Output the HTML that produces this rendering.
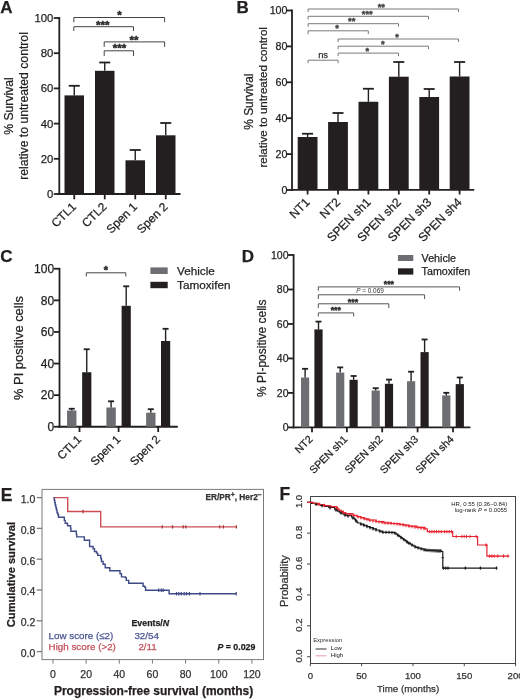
<!DOCTYPE html>
<html><head><meta charset="utf-8"><title>Figure</title>
<style>
html,body{margin:0;padding:0;background:#fff;}
body{width:520px;height:700px;overflow:hidden;}
svg{display:block;font-family:"Liberation Sans", Arial, Helvetica, sans-serif;}
</style></head>
<body>
<svg width="520" height="700" viewBox="0 0 520 700">
<rect x="0" y="0" width="520" height="700" fill="#fff"/>
<text x="0.20" y="12.70" font-size="17" text-anchor="start" fill="#231f20" font-weight="bold" stroke="#231f20" stroke-width="0.25">A</text>
<line x1="59.30" y1="17.10" x2="59.30" y2="194.90" stroke="#231f20" stroke-width="1.8" stroke-linecap="butt"/>
<line x1="53.80" y1="194.00" x2="59.30" y2="194.00" stroke="#231f20" stroke-width="1.8" stroke-linecap="butt"/>
<text x="53.30" y="198.07" font-size="11.3" text-anchor="end" fill="#231f20" font-weight="normal" stroke="#231f20" stroke-width="0.25">0</text>
<line x1="53.80" y1="158.80" x2="59.30" y2="158.80" stroke="#231f20" stroke-width="1.8" stroke-linecap="butt"/>
<text x="53.30" y="162.87" font-size="11.3" text-anchor="end" fill="#231f20" font-weight="normal" stroke="#231f20" stroke-width="0.25">20</text>
<line x1="53.80" y1="123.60" x2="59.30" y2="123.60" stroke="#231f20" stroke-width="1.8" stroke-linecap="butt"/>
<text x="53.30" y="127.67" font-size="11.3" text-anchor="end" fill="#231f20" font-weight="normal" stroke="#231f20" stroke-width="0.25">40</text>
<line x1="53.80" y1="88.40" x2="59.30" y2="88.40" stroke="#231f20" stroke-width="1.8" stroke-linecap="butt"/>
<text x="53.30" y="92.47" font-size="11.3" text-anchor="end" fill="#231f20" font-weight="normal" stroke="#231f20" stroke-width="0.25">60</text>
<line x1="53.80" y1="53.20" x2="59.30" y2="53.20" stroke="#231f20" stroke-width="1.8" stroke-linecap="butt"/>
<text x="53.30" y="57.27" font-size="11.3" text-anchor="end" fill="#231f20" font-weight="normal" stroke="#231f20" stroke-width="0.25">80</text>
<line x1="53.80" y1="18.00" x2="59.30" y2="18.00" stroke="#231f20" stroke-width="1.8" stroke-linecap="butt"/>
<text x="53.30" y="22.07" font-size="11.3" text-anchor="end" fill="#231f20" font-weight="normal" stroke="#231f20" stroke-width="0.25">100</text>
<line x1="58.40" y1="194.00" x2="180.50" y2="194.00" stroke="#231f20" stroke-width="1.8" stroke-linecap="butt"/>
<rect x="64.50" y="95.40" width="19.50" height="98.60" fill="#231f20"/>
<line x1="74.25" y1="95.40" x2="74.25" y2="85.80" stroke="#231f20" stroke-width="1.4" stroke-linecap="butt"/>
<line x1="68.75" y1="85.80" x2="79.75" y2="85.80" stroke="#231f20" stroke-width="1.7999999999999998" stroke-linecap="butt"/>
<line x1="74.25" y1="194.00" x2="74.25" y2="199.30" stroke="#231f20" stroke-width="1.8" stroke-linecap="butt"/>
<rect x="95.00" y="70.80" width="19.50" height="123.20" fill="#231f20"/>
<line x1="104.75" y1="70.80" x2="104.75" y2="62.50" stroke="#231f20" stroke-width="1.4" stroke-linecap="butt"/>
<line x1="99.25" y1="62.50" x2="110.25" y2="62.50" stroke="#231f20" stroke-width="1.7999999999999998" stroke-linecap="butt"/>
<line x1="104.75" y1="194.00" x2="104.75" y2="199.30" stroke="#231f20" stroke-width="1.8" stroke-linecap="butt"/>
<rect x="125.50" y="160.30" width="19.50" height="33.70" fill="#231f20"/>
<line x1="135.25" y1="160.30" x2="135.25" y2="150.00" stroke="#231f20" stroke-width="1.4" stroke-linecap="butt"/>
<line x1="129.75" y1="150.00" x2="140.75" y2="150.00" stroke="#231f20" stroke-width="1.7999999999999998" stroke-linecap="butt"/>
<line x1="135.25" y1="194.00" x2="135.25" y2="199.30" stroke="#231f20" stroke-width="1.8" stroke-linecap="butt"/>
<rect x="156.00" y="135.30" width="19.50" height="58.70" fill="#231f20"/>
<line x1="165.75" y1="135.30" x2="165.75" y2="123.00" stroke="#231f20" stroke-width="1.4" stroke-linecap="butt"/>
<line x1="160.25" y1="123.00" x2="171.25" y2="123.00" stroke="#231f20" stroke-width="1.7999999999999998" stroke-linecap="butt"/>
<line x1="165.75" y1="194.00" x2="165.75" y2="199.30" stroke="#231f20" stroke-width="1.8" stroke-linecap="butt"/>
<text x="76.85" y="207.50" font-size="11.9" text-anchor="end" fill="#231f20" font-weight="normal" stroke="#231f20" stroke-width="0.25" transform="rotate(-45 76.85 207.50)">CTL1</text>
<text x="107.35" y="207.50" font-size="11.9" text-anchor="end" fill="#231f20" font-weight="normal" stroke="#231f20" stroke-width="0.25" transform="rotate(-45 107.35 207.50)">CTL2</text>
<text x="137.85" y="207.50" font-size="11.9" text-anchor="end" fill="#231f20" font-weight="normal" stroke="#231f20" stroke-width="0.25" transform="rotate(-45 137.85 207.50)">Spen 1</text>
<text x="168.35" y="207.50" font-size="11.9" text-anchor="end" fill="#231f20" font-weight="normal" stroke="#231f20" stroke-width="0.25" transform="rotate(-45 168.35 207.50)">Spen 2</text>
<text x="13.40" y="106.00" font-size="12.2" text-anchor="middle" fill="#231f20" font-weight="normal" stroke="#231f20" stroke-width="0.25" transform="rotate(-90 13.40 106.00)">% Survival</text>
<text x="27.50" y="106.00" font-size="12.2" text-anchor="middle" fill="#231f20" font-weight="normal" stroke="#231f20" stroke-width="0.25" transform="rotate(-90 27.50 106.00)">relative to untreated control</text>
<polyline points="73.80,22.30 73.80,17.50 164.60,17.50 164.60,22.30" fill="none" stroke="#444" stroke-width="1"/>
<polyline points="73.80,31.00 73.80,26.70 133.50,26.70 133.50,31.00" fill="none" stroke="#444" stroke-width="1"/>
<polyline points="104.20,46.90 104.20,41.90 164.60,41.90 164.60,46.90" fill="none" stroke="#444" stroke-width="1"/>
<polyline points="104.20,56.00 104.20,50.80 133.50,50.80 133.50,56.00" fill="none" stroke="#444" stroke-width="1"/>
<text x="119.60" y="19.20" font-size="11.5" text-anchor="middle" fill="#2a2a2a" font-weight="bold" stroke="#2a2a2a" stroke-width="0.45" stroke-linejoin="round">*</text>
<text x="102.70" y="28.80" font-size="11.5" text-anchor="middle" fill="#2a2a2a" font-weight="bold" stroke="#2a2a2a" stroke-width="0.45" stroke-linejoin="round">***</text>
<text x="134.00" y="44.20" font-size="11.5" text-anchor="middle" fill="#2a2a2a" font-weight="bold" stroke="#2a2a2a" stroke-width="0.45" stroke-linejoin="round">**</text>
<text x="119.50" y="52.39" font-size="11.5" text-anchor="middle" fill="#2a2a2a" font-weight="bold" stroke="#2a2a2a" stroke-width="0.45" stroke-linejoin="round">***</text>
<text x="236.60" y="13.00" font-size="17" text-anchor="start" fill="#231f20" font-weight="bold" stroke="#231f20" stroke-width="0.25">B</text>
<line x1="292.00" y1="9.60" x2="292.00" y2="190.90" stroke="#231f20" stroke-width="1.8" stroke-linecap="butt"/>
<line x1="286.50" y1="190.00" x2="292.00" y2="190.00" stroke="#231f20" stroke-width="1.8" stroke-linecap="butt"/>
<text x="287.50" y="193.85" font-size="10.7" text-anchor="end" fill="#231f20" font-weight="normal" stroke="#231f20" stroke-width="0.25">0</text>
<line x1="286.50" y1="154.10" x2="292.00" y2="154.10" stroke="#231f20" stroke-width="1.8" stroke-linecap="butt"/>
<text x="287.50" y="157.95" font-size="10.7" text-anchor="end" fill="#231f20" font-weight="normal" stroke="#231f20" stroke-width="0.25">20</text>
<line x1="286.50" y1="118.20" x2="292.00" y2="118.20" stroke="#231f20" stroke-width="1.8" stroke-linecap="butt"/>
<text x="287.50" y="122.05" font-size="10.7" text-anchor="end" fill="#231f20" font-weight="normal" stroke="#231f20" stroke-width="0.25">40</text>
<line x1="286.50" y1="82.30" x2="292.00" y2="82.30" stroke="#231f20" stroke-width="1.8" stroke-linecap="butt"/>
<text x="287.50" y="86.15" font-size="10.7" text-anchor="end" fill="#231f20" font-weight="normal" stroke="#231f20" stroke-width="0.25">60</text>
<line x1="286.50" y1="46.40" x2="292.00" y2="46.40" stroke="#231f20" stroke-width="1.8" stroke-linecap="butt"/>
<text x="287.50" y="50.25" font-size="10.7" text-anchor="end" fill="#231f20" font-weight="normal" stroke="#231f20" stroke-width="0.25">80</text>
<line x1="286.50" y1="10.50" x2="292.00" y2="10.50" stroke="#231f20" stroke-width="1.8" stroke-linecap="butt"/>
<text x="287.50" y="14.35" font-size="10.7" text-anchor="end" fill="#231f20" font-weight="normal" stroke="#231f20" stroke-width="0.25">100</text>
<line x1="291.10" y1="189.80" x2="474.20" y2="189.80" stroke="#231f20" stroke-width="1.8" stroke-linecap="butt"/>
<rect x="297.70" y="137.00" width="19.80" height="52.80" fill="#231f20"/>
<line x1="307.60" y1="137.00" x2="307.60" y2="133.75" stroke="#231f20" stroke-width="1.4" stroke-linecap="butt"/>
<line x1="302.10" y1="133.75" x2="313.10" y2="133.75" stroke="#231f20" stroke-width="1.7999999999999998" stroke-linecap="butt"/>
<line x1="307.60" y1="189.80" x2="307.60" y2="194.50" stroke="#231f20" stroke-width="1.8" stroke-linecap="butt"/>
<rect x="328.10" y="122.00" width="19.80" height="67.80" fill="#231f20"/>
<line x1="338.00" y1="122.00" x2="338.00" y2="113.00" stroke="#231f20" stroke-width="1.4" stroke-linecap="butt"/>
<line x1="332.50" y1="113.00" x2="343.50" y2="113.00" stroke="#231f20" stroke-width="1.7999999999999998" stroke-linecap="butt"/>
<line x1="338.00" y1="189.80" x2="338.00" y2="194.50" stroke="#231f20" stroke-width="1.8" stroke-linecap="butt"/>
<rect x="358.50" y="101.75" width="19.80" height="88.05" fill="#231f20"/>
<line x1="368.40" y1="101.75" x2="368.40" y2="88.75" stroke="#231f20" stroke-width="1.4" stroke-linecap="butt"/>
<line x1="362.90" y1="88.75" x2="373.90" y2="88.75" stroke="#231f20" stroke-width="1.7999999999999998" stroke-linecap="butt"/>
<line x1="368.40" y1="189.80" x2="368.40" y2="194.50" stroke="#231f20" stroke-width="1.8" stroke-linecap="butt"/>
<rect x="388.90" y="76.70" width="19.80" height="113.10" fill="#231f20"/>
<line x1="398.80" y1="76.70" x2="398.80" y2="62.00" stroke="#231f20" stroke-width="1.4" stroke-linecap="butt"/>
<line x1="393.30" y1="62.00" x2="404.30" y2="62.00" stroke="#231f20" stroke-width="1.7999999999999998" stroke-linecap="butt"/>
<line x1="398.80" y1="189.80" x2="398.80" y2="194.50" stroke="#231f20" stroke-width="1.8" stroke-linecap="butt"/>
<rect x="419.30" y="97.00" width="19.80" height="92.80" fill="#231f20"/>
<line x1="429.20" y1="97.00" x2="429.20" y2="89.00" stroke="#231f20" stroke-width="1.4" stroke-linecap="butt"/>
<line x1="423.70" y1="89.00" x2="434.70" y2="89.00" stroke="#231f20" stroke-width="1.7999999999999998" stroke-linecap="butt"/>
<line x1="429.20" y1="189.80" x2="429.20" y2="194.50" stroke="#231f20" stroke-width="1.8" stroke-linecap="butt"/>
<rect x="449.70" y="76.50" width="19.80" height="113.30" fill="#231f20"/>
<line x1="459.60" y1="76.50" x2="459.60" y2="62.00" stroke="#231f20" stroke-width="1.4" stroke-linecap="butt"/>
<line x1="454.10" y1="62.00" x2="465.10" y2="62.00" stroke="#231f20" stroke-width="1.7999999999999998" stroke-linecap="butt"/>
<line x1="459.60" y1="189.80" x2="459.60" y2="194.50" stroke="#231f20" stroke-width="1.8" stroke-linecap="butt"/>
<text x="310.60" y="203.00" font-size="12.1" text-anchor="end" fill="#231f20" font-weight="normal" stroke="#231f20" stroke-width="0.25" transform="rotate(-45 310.60 203.00)">NT1</text>
<text x="341.00" y="203.00" font-size="12.1" text-anchor="end" fill="#231f20" font-weight="normal" stroke="#231f20" stroke-width="0.25" transform="rotate(-45 341.00 203.00)">NT2</text>
<text x="371.40" y="203.00" font-size="12.1" text-anchor="end" fill="#231f20" font-weight="normal" stroke="#231f20" stroke-width="0.25" transform="rotate(-45 371.40 203.00)">SPEN sh1</text>
<text x="401.80" y="203.00" font-size="12.1" text-anchor="end" fill="#231f20" font-weight="normal" stroke="#231f20" stroke-width="0.25" transform="rotate(-45 401.80 203.00)">SPEN sh2</text>
<text x="432.20" y="203.00" font-size="12.1" text-anchor="end" fill="#231f20" font-weight="normal" stroke="#231f20" stroke-width="0.25" transform="rotate(-45 432.20 203.00)">SPEN sh3</text>
<text x="462.60" y="203.00" font-size="12.1" text-anchor="end" fill="#231f20" font-weight="normal" stroke="#231f20" stroke-width="0.25" transform="rotate(-45 462.60 203.00)">SPEN sh4</text>
<text x="252.60" y="101.60" font-size="11.9" text-anchor="middle" fill="#231f20" font-weight="normal" stroke="#231f20" stroke-width="0.25" transform="rotate(-90 252.60 101.60)">% Survival</text>
<text x="267.20" y="97.30" font-size="11.6" text-anchor="middle" fill="#231f20" font-weight="normal" stroke="#231f20" stroke-width="0.25" transform="rotate(-90 267.20 97.30)">relative to untreated control</text>
<polyline points="308.10,12.00 308.10,9.00 458.50,9.00 458.50,12.00" fill="none" stroke="#7a7a7a" stroke-width="1"/>
<polyline points="308.10,19.30 308.10,16.30 428.50,16.30 428.50,19.30" fill="none" stroke="#7a7a7a" stroke-width="1"/>
<polyline points="308.10,26.70 308.10,23.70 398.50,23.70 398.50,26.70" fill="none" stroke="#7a7a7a" stroke-width="1"/>
<polyline points="308.10,34.20 308.10,30.80 368.30,30.80 368.30,34.20" fill="none" stroke="#7a7a7a" stroke-width="1"/>
<polyline points="338.10,42.00 338.10,39.00 458.50,39.00 458.50,42.00" fill="none" stroke="#7a7a7a" stroke-width="1"/>
<polyline points="338.10,49.20 338.10,46.20 428.50,46.20 428.50,49.20" fill="none" stroke="#7a7a7a" stroke-width="1"/>
<polyline points="338.10,56.10 338.10,53.10 398.50,53.10 398.50,56.10" fill="none" stroke="#7a7a7a" stroke-width="1"/>
<polyline points="308.10,63.20 308.10,60.20 338.10,60.20 338.10,63.20" fill="none" stroke="#7a7a7a" stroke-width="1"/>
<text x="381.25" y="9.93" font-size="9.3" text-anchor="middle" fill="#444" font-weight="bold" stroke="#444" stroke-width="0.45" stroke-linejoin="round">**</text>
<text x="367.30" y="17.23" font-size="9.3" text-anchor="middle" fill="#444" font-weight="bold" stroke="#444" stroke-width="0.45" stroke-linejoin="round">***</text>
<text x="351.70" y="24.33" font-size="9.3" text-anchor="middle" fill="#444" font-weight="bold" stroke="#444" stroke-width="0.45" stroke-linejoin="round">**</text>
<text x="337.10" y="31.03" font-size="9.3" text-anchor="middle" fill="#444" font-weight="bold" stroke="#444" stroke-width="0.45" stroke-linejoin="round">*</text>
<text x="397.10" y="39.73" font-size="9.3" text-anchor="middle" fill="#444" font-weight="bold" stroke="#444" stroke-width="0.45" stroke-linejoin="round">*</text>
<text x="382.70" y="46.83" font-size="9.3" text-anchor="middle" fill="#444" font-weight="bold" stroke="#444" stroke-width="0.45" stroke-linejoin="round">*</text>
<text x="367.30" y="53.73" font-size="9.3" text-anchor="middle" fill="#444" font-weight="bold" stroke="#444" stroke-width="0.45" stroke-linejoin="round">*</text>
<text x="323.10" y="58.30" font-size="9.4" text-anchor="middle" fill="#333" font-weight="normal" stroke="#333" stroke-width="0.25">ns</text>
<text x="0.20" y="261.50" font-size="17" text-anchor="start" fill="#231f20" font-weight="bold" stroke="#231f20" stroke-width="0.25">C</text>
<line x1="59.50" y1="267.85" x2="59.50" y2="427.65" stroke="#231f20" stroke-width="1.8" stroke-linecap="butt"/>
<line x1="54.00" y1="426.75" x2="59.50" y2="426.75" stroke="#231f20" stroke-width="1.8" stroke-linecap="butt"/>
<text x="54.10" y="431.07" font-size="12.0" text-anchor="end" fill="#231f20" font-weight="normal" stroke="#231f20" stroke-width="0.25">0</text>
<line x1="54.00" y1="395.15" x2="59.50" y2="395.15" stroke="#231f20" stroke-width="1.8" stroke-linecap="butt"/>
<text x="54.10" y="399.47" font-size="12.0" text-anchor="end" fill="#231f20" font-weight="normal" stroke="#231f20" stroke-width="0.25">20</text>
<line x1="54.00" y1="363.55" x2="59.50" y2="363.55" stroke="#231f20" stroke-width="1.8" stroke-linecap="butt"/>
<text x="54.10" y="367.87" font-size="12.0" text-anchor="end" fill="#231f20" font-weight="normal" stroke="#231f20" stroke-width="0.25">40</text>
<line x1="54.00" y1="331.95" x2="59.50" y2="331.95" stroke="#231f20" stroke-width="1.8" stroke-linecap="butt"/>
<text x="54.10" y="336.27" font-size="12.0" text-anchor="end" fill="#231f20" font-weight="normal" stroke="#231f20" stroke-width="0.25">60</text>
<line x1="54.00" y1="300.35" x2="59.50" y2="300.35" stroke="#231f20" stroke-width="1.8" stroke-linecap="butt"/>
<text x="54.10" y="304.67" font-size="12.0" text-anchor="end" fill="#231f20" font-weight="normal" stroke="#231f20" stroke-width="0.25">80</text>
<line x1="54.00" y1="268.75" x2="59.50" y2="268.75" stroke="#231f20" stroke-width="1.8" stroke-linecap="butt"/>
<text x="54.10" y="273.07" font-size="12.0" text-anchor="end" fill="#231f20" font-weight="normal" stroke="#231f20" stroke-width="0.25">100</text>
<line x1="58.60" y1="426.75" x2="177.80" y2="426.75" stroke="#231f20" stroke-width="1.8" stroke-linecap="butt"/>
<rect x="67.05" y="410.50" width="9.40" height="16.25" fill="#6d6e71"/>
<line x1="71.75" y1="410.50" x2="71.75" y2="408.75" stroke="#231f20" stroke-width="1.4" stroke-linecap="butt"/>
<line x1="68.75" y1="408.75" x2="74.75" y2="408.75" stroke="#231f20" stroke-width="1.7999999999999998" stroke-linecap="butt"/>
<rect x="106.40" y="407.50" width="9.40" height="19.25" fill="#6d6e71"/>
<line x1="111.10" y1="407.50" x2="111.10" y2="401.30" stroke="#231f20" stroke-width="1.4" stroke-linecap="butt"/>
<line x1="108.10" y1="401.30" x2="114.10" y2="401.30" stroke="#231f20" stroke-width="1.7999999999999998" stroke-linecap="butt"/>
<rect x="146.10" y="412.70" width="9.40" height="14.05" fill="#6d6e71"/>
<line x1="150.80" y1="412.70" x2="150.80" y2="409.20" stroke="#231f20" stroke-width="1.4" stroke-linecap="butt"/>
<line x1="147.80" y1="409.20" x2="153.80" y2="409.20" stroke="#231f20" stroke-width="1.7999999999999998" stroke-linecap="butt"/>
<rect x="82.15" y="372.25" width="9.20" height="54.50" fill="#231f20"/>
<line x1="86.75" y1="372.25" x2="86.75" y2="349.25" stroke="#231f20" stroke-width="1.4" stroke-linecap="butt"/>
<line x1="83.75" y1="349.25" x2="89.75" y2="349.25" stroke="#231f20" stroke-width="1.7999999999999998" stroke-linecap="butt"/>
<rect x="121.60" y="305.80" width="9.20" height="120.95" fill="#231f20"/>
<line x1="126.20" y1="305.80" x2="126.20" y2="286.30" stroke="#231f20" stroke-width="1.4" stroke-linecap="butt"/>
<line x1="123.20" y1="286.30" x2="129.20" y2="286.30" stroke="#231f20" stroke-width="1.7999999999999998" stroke-linecap="butt"/>
<rect x="161.00" y="341.00" width="9.20" height="85.75" fill="#231f20"/>
<line x1="165.60" y1="341.00" x2="165.60" y2="328.80" stroke="#231f20" stroke-width="1.4" stroke-linecap="butt"/>
<line x1="162.60" y1="328.80" x2="168.60" y2="328.80" stroke="#231f20" stroke-width="1.7999999999999998" stroke-linecap="butt"/>
<line x1="79.50" y1="426.75" x2="79.50" y2="432.00" stroke="#231f20" stroke-width="1.8" stroke-linecap="butt"/>
<text x="82.10" y="440.30" font-size="11.6" text-anchor="end" fill="#231f20" font-weight="normal" stroke="#231f20" stroke-width="0.25" transform="rotate(-45 82.10 440.30)">CTL1</text>
<line x1="118.60" y1="426.75" x2="118.60" y2="432.00" stroke="#231f20" stroke-width="1.8" stroke-linecap="butt"/>
<text x="121.20" y="440.30" font-size="11.6" text-anchor="end" fill="#231f20" font-weight="normal" stroke="#231f20" stroke-width="0.25" transform="rotate(-45 121.20 440.30)">Spen 1</text>
<line x1="158.20" y1="426.75" x2="158.20" y2="432.00" stroke="#231f20" stroke-width="1.8" stroke-linecap="butt"/>
<text x="160.80" y="440.30" font-size="11.6" text-anchor="end" fill="#231f20" font-weight="normal" stroke="#231f20" stroke-width="0.25" transform="rotate(-45 160.80 440.30)">Spen 2</text>
<text x="23.40" y="348.00" font-size="12.9" text-anchor="middle" fill="#231f20" font-weight="normal" stroke="#231f20" stroke-width="0.25" transform="rotate(-90 23.40 348.00)">% PI positive cells</text>
<polyline points="86.30,276.40 86.30,272.80 125.80,272.80 125.80,276.40" fill="none" stroke="#444" stroke-width="1"/>
<text x="106.00" y="274.13" font-size="11" text-anchor="middle" fill="#2a2a2a" font-weight="bold" stroke="#2a2a2a" stroke-width="0.45" stroke-linejoin="round">*</text>
<rect x="150.40" y="267.40" width="17.30" height="6.60" fill="#6d6e71"/>
<rect x="150.40" y="281.80" width="17.30" height="6.40" fill="#231f20"/>
<text x="177.00" y="274.80" font-size="11.75" text-anchor="start" fill="#231f20" font-weight="normal" stroke="#231f20" stroke-width="0.25">Vehicle</text>
<text x="177.00" y="289.10" font-size="11.75" text-anchor="start" fill="#231f20" font-weight="normal" stroke="#231f20" stroke-width="0.25">Tamoxifen</text>
<text x="241.80" y="261.70" font-size="17" text-anchor="start" fill="#231f20" font-weight="bold" stroke="#231f20" stroke-width="0.25">D</text>
<line x1="293.60" y1="254.10" x2="293.60" y2="428.30" stroke="#231f20" stroke-width="1.8" stroke-linecap="butt"/>
<line x1="288.10" y1="427.40" x2="293.60" y2="427.40" stroke="#231f20" stroke-width="1.8" stroke-linecap="butt"/>
<text x="288.50" y="431.18" font-size="10.5" text-anchor="end" fill="#231f20" font-weight="normal" stroke="#231f20" stroke-width="0.25">0</text>
<line x1="288.10" y1="392.92" x2="293.60" y2="392.92" stroke="#231f20" stroke-width="1.8" stroke-linecap="butt"/>
<text x="288.50" y="396.70" font-size="10.5" text-anchor="end" fill="#231f20" font-weight="normal" stroke="#231f20" stroke-width="0.25">20</text>
<line x1="288.10" y1="358.44" x2="293.60" y2="358.44" stroke="#231f20" stroke-width="1.8" stroke-linecap="butt"/>
<text x="288.50" y="362.22" font-size="10.5" text-anchor="end" fill="#231f20" font-weight="normal" stroke="#231f20" stroke-width="0.25">40</text>
<line x1="288.10" y1="323.96" x2="293.60" y2="323.96" stroke="#231f20" stroke-width="1.8" stroke-linecap="butt"/>
<text x="288.50" y="327.74" font-size="10.5" text-anchor="end" fill="#231f20" font-weight="normal" stroke="#231f20" stroke-width="0.25">60</text>
<line x1="288.10" y1="289.48" x2="293.60" y2="289.48" stroke="#231f20" stroke-width="1.8" stroke-linecap="butt"/>
<text x="288.50" y="293.26" font-size="10.5" text-anchor="end" fill="#231f20" font-weight="normal" stroke="#231f20" stroke-width="0.25">80</text>
<line x1="288.10" y1="255.00" x2="293.60" y2="255.00" stroke="#231f20" stroke-width="1.8" stroke-linecap="butt"/>
<text x="288.50" y="258.78" font-size="10.5" text-anchor="end" fill="#231f20" font-weight="normal" stroke="#231f20" stroke-width="0.25">100</text>
<line x1="292.70" y1="427.40" x2="470.40" y2="427.40" stroke="#231f20" stroke-width="1.8" stroke-linecap="butt"/>
<rect x="301.00" y="377.50" width="8.20" height="49.90" fill="#6d6e71"/>
<line x1="305.10" y1="377.50" x2="305.10" y2="368.80" stroke="#231f20" stroke-width="1.4" stroke-linecap="butt"/>
<line x1="302.10" y1="368.80" x2="308.10" y2="368.80" stroke="#231f20" stroke-width="1.7999999999999998" stroke-linecap="butt"/>
<rect x="336.10" y="372.60" width="8.20" height="54.80" fill="#6d6e71"/>
<line x1="340.20" y1="372.60" x2="340.20" y2="367.40" stroke="#231f20" stroke-width="1.4" stroke-linecap="butt"/>
<line x1="337.20" y1="367.40" x2="343.20" y2="367.40" stroke="#231f20" stroke-width="1.7999999999999998" stroke-linecap="butt"/>
<rect x="371.60" y="390.50" width="8.20" height="36.90" fill="#6d6e71"/>
<line x1="375.70" y1="390.50" x2="375.70" y2="388.20" stroke="#231f20" stroke-width="1.4" stroke-linecap="butt"/>
<line x1="372.70" y1="388.20" x2="378.70" y2="388.20" stroke="#231f20" stroke-width="1.7999999999999998" stroke-linecap="butt"/>
<rect x="407.00" y="381.20" width="8.20" height="46.20" fill="#6d6e71"/>
<line x1="411.10" y1="381.20" x2="411.10" y2="371.70" stroke="#231f20" stroke-width="1.4" stroke-linecap="butt"/>
<line x1="408.10" y1="371.70" x2="414.10" y2="371.70" stroke="#231f20" stroke-width="1.7999999999999998" stroke-linecap="butt"/>
<rect x="442.20" y="395.40" width="8.20" height="32.00" fill="#6d6e71"/>
<line x1="446.30" y1="395.40" x2="446.30" y2="392.80" stroke="#231f20" stroke-width="1.4" stroke-linecap="butt"/>
<line x1="443.30" y1="392.80" x2="449.30" y2="392.80" stroke="#231f20" stroke-width="1.7999999999999998" stroke-linecap="butt"/>
<rect x="314.40" y="329.40" width="8.20" height="98.00" fill="#231f20"/>
<line x1="318.50" y1="329.40" x2="318.50" y2="321.60" stroke="#231f20" stroke-width="1.4" stroke-linecap="butt"/>
<line x1="315.50" y1="321.60" x2="321.50" y2="321.60" stroke="#231f20" stroke-width="1.7999999999999998" stroke-linecap="butt"/>
<rect x="349.50" y="379.80" width="8.20" height="47.60" fill="#231f20"/>
<line x1="353.60" y1="379.80" x2="353.60" y2="376.00" stroke="#231f20" stroke-width="1.4" stroke-linecap="butt"/>
<line x1="350.60" y1="376.00" x2="356.60" y2="376.00" stroke="#231f20" stroke-width="1.7999999999999998" stroke-linecap="butt"/>
<rect x="384.90" y="383.80" width="8.20" height="43.60" fill="#231f20"/>
<line x1="389.00" y1="383.80" x2="389.00" y2="379.60" stroke="#231f20" stroke-width="1.4" stroke-linecap="butt"/>
<line x1="386.00" y1="379.60" x2="392.00" y2="379.60" stroke="#231f20" stroke-width="1.7999999999999998" stroke-linecap="butt"/>
<rect x="420.50" y="352.10" width="8.20" height="75.30" fill="#231f20"/>
<line x1="424.60" y1="352.10" x2="424.60" y2="339.50" stroke="#231f20" stroke-width="1.4" stroke-linecap="butt"/>
<line x1="421.60" y1="339.50" x2="427.60" y2="339.50" stroke="#231f20" stroke-width="1.7999999999999998" stroke-linecap="butt"/>
<rect x="455.70" y="384.10" width="8.20" height="43.30" fill="#231f20"/>
<line x1="459.80" y1="384.10" x2="459.80" y2="377.50" stroke="#231f20" stroke-width="1.4" stroke-linecap="butt"/>
<line x1="456.80" y1="377.50" x2="462.80" y2="377.50" stroke="#231f20" stroke-width="1.7999999999999998" stroke-linecap="butt"/>
<line x1="312.00" y1="427.40" x2="312.00" y2="432.30" stroke="#231f20" stroke-width="1.8" stroke-linecap="butt"/>
<text x="313.30" y="439.80" font-size="10.6" text-anchor="end" fill="#231f20" font-weight="normal" stroke="#231f20" stroke-width="0.25" transform="rotate(-45 313.30 439.80)">NT2</text>
<line x1="346.90" y1="427.40" x2="346.90" y2="432.30" stroke="#231f20" stroke-width="1.8" stroke-linecap="butt"/>
<text x="348.20" y="439.80" font-size="10.6" text-anchor="end" fill="#231f20" font-weight="normal" stroke="#231f20" stroke-width="0.25" transform="rotate(-45 348.20 439.80)">SPEN sh1</text>
<line x1="382.20" y1="427.40" x2="382.20" y2="432.30" stroke="#231f20" stroke-width="1.8" stroke-linecap="butt"/>
<text x="383.50" y="439.80" font-size="10.6" text-anchor="end" fill="#231f20" font-weight="normal" stroke="#231f20" stroke-width="0.25" transform="rotate(-45 383.50 439.80)">SPEN sh2</text>
<line x1="417.60" y1="427.40" x2="417.60" y2="432.30" stroke="#231f20" stroke-width="1.8" stroke-linecap="butt"/>
<text x="418.90" y="439.80" font-size="10.6" text-anchor="end" fill="#231f20" font-weight="normal" stroke="#231f20" stroke-width="0.25" transform="rotate(-45 418.90 439.80)">SPEN sh3</text>
<line x1="453.00" y1="427.40" x2="453.00" y2="432.30" stroke="#231f20" stroke-width="1.8" stroke-linecap="butt"/>
<text x="454.30" y="439.80" font-size="10.6" text-anchor="end" fill="#231f20" font-weight="normal" stroke="#231f20" stroke-width="0.25" transform="rotate(-45 454.30 439.80)">SPEN sh4</text>
<text x="266.40" y="348.20" font-size="12.0" text-anchor="middle" fill="#231f20" font-weight="normal" stroke="#231f20" stroke-width="0.25" transform="rotate(-90 266.40 348.20)">% PI-positive cells</text>
<polyline points="318.30,290.70 318.30,286.90 459.60,286.90 459.60,290.70" fill="none" stroke="#555" stroke-width="1"/>
<polyline points="318.30,299.00 318.30,294.80 424.60,294.80 424.60,299.00" fill="none" stroke="#555" stroke-width="1"/>
<polyline points="318.30,308.10 318.30,303.80 388.80,303.80 388.80,308.10" fill="none" stroke="#555" stroke-width="1"/>
<polyline points="318.30,316.50 318.30,312.90 353.70,312.90 353.70,316.50" fill="none" stroke="#555" stroke-width="1"/>
<text x="388.90" y="287.36" font-size="8.8" text-anchor="middle" fill="#2a2a2a" font-weight="bold" stroke="#2a2a2a" stroke-width="0.45" stroke-linejoin="round">***</text>
<text x="370.00" y="292.60" font-size="6.4" text-anchor="middle" fill="#333" font-weight="normal"><tspan font-style="italic">P</tspan> = 0.069</text>
<text x="353.00" y="304.66" font-size="8.8" text-anchor="middle" fill="#2a2a2a" font-weight="bold" stroke="#2a2a2a" stroke-width="0.45" stroke-linejoin="round">***</text>
<text x="335.80" y="313.36" font-size="8.8" text-anchor="middle" fill="#2a2a2a" font-weight="bold" stroke="#2a2a2a" stroke-width="0.45" stroke-linejoin="round">***</text>
<rect x="398.00" y="255.00" width="15.30" height="6.00" fill="#6d6e71"/>
<rect x="398.00" y="268.30" width="15.30" height="6.30" fill="#231f20"/>
<text x="421.60" y="261.60" font-size="10.7" text-anchor="start" fill="#231f20" font-weight="normal" stroke="#231f20" stroke-width="0.25">Vehicle</text>
<text x="421.60" y="274.90" font-size="10.7" text-anchor="start" fill="#231f20" font-weight="normal" stroke="#231f20" stroke-width="0.25">Tamoxifen</text>
<text x="0.80" y="500.50" font-size="17.5" text-anchor="start" fill="#231f20" font-weight="bold" stroke="#231f20" stroke-width="0.25">E</text>
<rect x="42" y="489.4" width="221.5" height="170.2" fill="none" stroke="#7a7a7a" stroke-width="1"/>
<line x1="36.80" y1="651.60" x2="42.00" y2="651.60" stroke="#7a7a7a" stroke-width="1.3" stroke-linecap="butt"/>
<text x="35.40" y="657.00" font-size="10.5" text-anchor="end" fill="#333" font-weight="normal" stroke="#333" stroke-width="0.25">0.0</text>
<line x1="36.80" y1="620.80" x2="42.00" y2="620.80" stroke="#7a7a7a" stroke-width="1.3" stroke-linecap="butt"/>
<text x="35.40" y="626.20" font-size="10.5" text-anchor="end" fill="#333" font-weight="normal" stroke="#333" stroke-width="0.25">0.2</text>
<line x1="36.80" y1="590.00" x2="42.00" y2="590.00" stroke="#7a7a7a" stroke-width="1.3" stroke-linecap="butt"/>
<text x="35.40" y="595.40" font-size="10.5" text-anchor="end" fill="#333" font-weight="normal" stroke="#333" stroke-width="0.25">0.4</text>
<line x1="36.80" y1="559.20" x2="42.00" y2="559.20" stroke="#7a7a7a" stroke-width="1.3" stroke-linecap="butt"/>
<text x="35.40" y="564.60" font-size="10.5" text-anchor="end" fill="#333" font-weight="normal" stroke="#333" stroke-width="0.25">0.6</text>
<line x1="36.80" y1="528.40" x2="42.00" y2="528.40" stroke="#7a7a7a" stroke-width="1.3" stroke-linecap="butt"/>
<text x="35.40" y="533.80" font-size="10.5" text-anchor="end" fill="#333" font-weight="normal" stroke="#333" stroke-width="0.25">0.8</text>
<line x1="36.80" y1="497.60" x2="42.00" y2="497.60" stroke="#7a7a7a" stroke-width="1.3" stroke-linecap="butt"/>
<text x="35.40" y="503.00" font-size="10.5" text-anchor="end" fill="#333" font-weight="normal" stroke="#333" stroke-width="0.25">1.0</text>
<line x1="53.00" y1="659.60" x2="53.00" y2="663.60" stroke="#7a7a7a" stroke-width="1" stroke-linecap="butt"/>
<text x="53.00" y="677.60" font-size="10.5" text-anchor="middle" fill="#333" font-weight="normal" stroke="#333" stroke-width="0.25">0</text>
<line x1="86.15" y1="659.60" x2="86.15" y2="663.60" stroke="#7a7a7a" stroke-width="1" stroke-linecap="butt"/>
<text x="86.15" y="677.60" font-size="10.5" text-anchor="middle" fill="#333" font-weight="normal" stroke="#333" stroke-width="0.25">20</text>
<line x1="119.30" y1="659.60" x2="119.30" y2="663.60" stroke="#7a7a7a" stroke-width="1" stroke-linecap="butt"/>
<text x="119.30" y="677.60" font-size="10.5" text-anchor="middle" fill="#333" font-weight="normal" stroke="#333" stroke-width="0.25">40</text>
<line x1="152.45" y1="659.60" x2="152.45" y2="663.60" stroke="#7a7a7a" stroke-width="1" stroke-linecap="butt"/>
<text x="152.45" y="677.60" font-size="10.5" text-anchor="middle" fill="#333" font-weight="normal" stroke="#333" stroke-width="0.25">60</text>
<line x1="185.60" y1="659.60" x2="185.60" y2="663.60" stroke="#7a7a7a" stroke-width="1" stroke-linecap="butt"/>
<text x="185.60" y="677.60" font-size="10.5" text-anchor="middle" fill="#333" font-weight="normal" stroke="#333" stroke-width="0.25">80</text>
<line x1="218.75" y1="659.60" x2="218.75" y2="663.60" stroke="#7a7a7a" stroke-width="1" stroke-linecap="butt"/>
<text x="218.75" y="677.60" font-size="10.5" text-anchor="middle" fill="#333" font-weight="normal" stroke="#333" stroke-width="0.25">100</text>
<line x1="251.90" y1="659.60" x2="251.90" y2="663.60" stroke="#7a7a7a" stroke-width="1" stroke-linecap="butt"/>
<text x="251.90" y="677.60" font-size="10.5" text-anchor="middle" fill="#333" font-weight="normal" stroke="#333" stroke-width="0.25">120</text>
<text x="153.60" y="694.60" font-size="12.0" text-anchor="middle" fill="#231f20" font-weight="bold" stroke="#231f20" stroke-width="0.25">Progression-free survival (months)</text>
<text x="15.40" y="574.60" font-size="11.15" text-anchor="middle" fill="#231f20" font-weight="bold" stroke="#231f20" stroke-width="0.25" transform="rotate(-90 15.40 574.60)">Cumulative survival</text>
<text x="261.80" y="499.70" font-size="8.3" text-anchor="end" fill="#333" font-weight="bold" stroke="#333" stroke-width="0.25">ER/PR<tspan dy="-3" font-size="6.8">+</tspan><tspan dy="3">, Her2</tspan><tspan dy="-3" font-size="6.8">−</tspan></text>
<path d="M53.5 497.6 H67.7 V511.5 H100.7 V526.9 H236.8" fill="none" stroke="#cc4d55" stroke-width="1.4"/>
<line x1="83.10" y1="509.80" x2="83.10" y2="513.20" stroke="#a33" stroke-width="1.2" stroke-linecap="butt"/>
<line x1="162.20" y1="525.20" x2="162.20" y2="528.60" stroke="#a33" stroke-width="1.2" stroke-linecap="butt"/>
<line x1="172.50" y1="525.20" x2="172.50" y2="528.60" stroke="#a33" stroke-width="1.2" stroke-linecap="butt"/>
<line x1="183.20" y1="525.20" x2="183.20" y2="528.60" stroke="#a33" stroke-width="1.2" stroke-linecap="butt"/>
<line x1="185.80" y1="525.20" x2="185.80" y2="528.60" stroke="#a33" stroke-width="1.2" stroke-linecap="butt"/>
<line x1="219.70" y1="525.20" x2="219.70" y2="528.60" stroke="#a33" stroke-width="1.2" stroke-linecap="butt"/>
<line x1="223.40" y1="525.20" x2="223.40" y2="528.60" stroke="#a33" stroke-width="1.2" stroke-linecap="butt"/>
<line x1="236.40" y1="525.20" x2="236.40" y2="528.60" stroke="#a33" stroke-width="1.2" stroke-linecap="butt"/>
<path d="M53.5 497.6 H54.2 V500 H54.7 V502.5 H55.2 V505 H55.8 V507.5 H56.4 V510 H57 V512.5 H57.7 V514.5 H58.5 V517.3 H64.3 V520.4 H65.2 V523.2 H67.5 V525.8 H70.6 V528.5 H70.9 V531.3 H76.3 V534.1 H76.7 V536.9 H84.3 V540.2 H89.6 V543.4 V546.5 H93.1 V548.8 H94.5 V551.5 H96.5 V553.1 H97.7 V555.4 H100.8 V558.5 H101.5 V561.5 H103.1 V564.2 H105.2 V567.7 H109.8 V570.8 H120 V573.8 H121.5 V576.9 H125.3 V577.6 H126.3 V580.4 H128.7 V583.3 H143.1 V586.2 H144.8 V587.4 H145.6 V590.2 H169.1 V593.7 H236.4" fill="none" stroke="#3e4a86" stroke-width="1.4"/>
<line x1="158.70" y1="588.50" x2="158.70" y2="591.90" stroke="#3e4a86" stroke-width="1.2" stroke-linecap="butt"/>
<line x1="161.30" y1="588.50" x2="161.30" y2="591.90" stroke="#3e4a86" stroke-width="1.2" stroke-linecap="butt"/>
<line x1="163.20" y1="588.50" x2="163.20" y2="591.90" stroke="#3e4a86" stroke-width="1.2" stroke-linecap="butt"/>
<line x1="176.50" y1="592.00" x2="176.50" y2="595.40" stroke="#3e4a86" stroke-width="1.2" stroke-linecap="butt"/>
<line x1="178.80" y1="592.00" x2="178.80" y2="595.40" stroke="#3e4a86" stroke-width="1.2" stroke-linecap="butt"/>
<line x1="181.30" y1="592.00" x2="181.30" y2="595.40" stroke="#3e4a86" stroke-width="1.2" stroke-linecap="butt"/>
<line x1="184.20" y1="592.00" x2="184.20" y2="595.40" stroke="#3e4a86" stroke-width="1.2" stroke-linecap="butt"/>
<line x1="186.50" y1="592.00" x2="186.50" y2="595.40" stroke="#3e4a86" stroke-width="1.2" stroke-linecap="butt"/>
<line x1="189.40" y1="592.00" x2="189.40" y2="595.40" stroke="#3e4a86" stroke-width="1.2" stroke-linecap="butt"/>
<line x1="200.00" y1="592.00" x2="200.00" y2="595.40" stroke="#3e4a86" stroke-width="1.2" stroke-linecap="butt"/>
<line x1="236.20" y1="592.00" x2="236.20" y2="595.40" stroke="#3e4a86" stroke-width="1.2" stroke-linecap="butt"/>
<text x="48.60" y="639.10" font-size="9.8" text-anchor="start" fill="#4a5592" font-weight="normal" stroke="#4a5592" stroke-width="0.25">Low score (≤2)</text>
<text x="48.60" y="649.60" font-size="9.8" text-anchor="start" fill="#c5505a" font-weight="normal" stroke="#c5505a" stroke-width="0.25">High score (&gt;2)</text>
<text x="131.50" y="625.60" font-size="8.8" text-anchor="start" fill="#231f20" font-weight="bold" stroke="#231f20" stroke-width="0.25">Events/<tspan font-style="italic">N</tspan></text>
<text x="146.70" y="639.10" font-size="9.8" text-anchor="middle" fill="#4a5592" font-weight="normal" stroke="#4a5592" stroke-width="0.25">32/54</text>
<text x="147.60" y="649.60" font-size="9.8" text-anchor="middle" fill="#c5505a" font-weight="normal" stroke="#c5505a" stroke-width="0.25">2/11</text>
<text x="255.40" y="649.60" font-size="8.8" text-anchor="end" fill="#231f20" font-weight="bold" stroke="#231f20" stroke-width="0.25"><tspan font-style="italic">P</tspan> = 0.029</text>
<text x="279.50" y="500.20" font-size="17.5" text-anchor="start" fill="#231f20" font-weight="bold" stroke="#231f20" stroke-width="0.25">F</text>
<rect x="310.5" y="496.5" width="205" height="167" fill="none" stroke="#444" stroke-width="1"/>
<line x1="307.00" y1="656.75" x2="310.50" y2="656.75" stroke="#444" stroke-width="1" stroke-linecap="butt"/>
<text x="301.90" y="655.95" font-size="9.5" text-anchor="middle" fill="#333" font-weight="normal" stroke="#333" stroke-width="0.25" transform="rotate(-90 301.90 655.95)">0.0</text>
<line x1="307.00" y1="625.85" x2="310.50" y2="625.85" stroke="#444" stroke-width="1" stroke-linecap="butt"/>
<text x="301.90" y="625.05" font-size="9.5" text-anchor="middle" fill="#333" font-weight="normal" stroke="#333" stroke-width="0.25" transform="rotate(-90 301.90 625.05)">0.2</text>
<line x1="307.00" y1="594.95" x2="310.50" y2="594.95" stroke="#444" stroke-width="1" stroke-linecap="butt"/>
<text x="301.90" y="594.15" font-size="9.5" text-anchor="middle" fill="#333" font-weight="normal" stroke="#333" stroke-width="0.25" transform="rotate(-90 301.90 594.15)">0.4</text>
<line x1="307.00" y1="564.05" x2="310.50" y2="564.05" stroke="#444" stroke-width="1" stroke-linecap="butt"/>
<text x="301.90" y="563.25" font-size="9.5" text-anchor="middle" fill="#333" font-weight="normal" stroke="#333" stroke-width="0.25" transform="rotate(-90 301.90 563.25)">0.6</text>
<line x1="307.00" y1="533.15" x2="310.50" y2="533.15" stroke="#444" stroke-width="1" stroke-linecap="butt"/>
<text x="301.90" y="532.35" font-size="9.5" text-anchor="middle" fill="#333" font-weight="normal" stroke="#333" stroke-width="0.25" transform="rotate(-90 301.90 532.35)">0.8</text>
<line x1="307.00" y1="502.25" x2="310.50" y2="502.25" stroke="#444" stroke-width="1" stroke-linecap="butt"/>
<text x="301.90" y="501.45" font-size="9.5" text-anchor="middle" fill="#333" font-weight="normal" stroke="#333" stroke-width="0.25" transform="rotate(-90 301.90 501.45)">1.0</text>
<line x1="310.30" y1="663.50" x2="310.30" y2="666.20" stroke="#444" stroke-width="1" stroke-linecap="butt"/>
<text x="310.30" y="678.80" font-size="9.6" text-anchor="middle" fill="#333" font-weight="normal" stroke="#333" stroke-width="0.25">0</text>
<line x1="361.62" y1="663.50" x2="361.62" y2="666.20" stroke="#444" stroke-width="1" stroke-linecap="butt"/>
<text x="361.62" y="678.80" font-size="9.6" text-anchor="middle" fill="#333" font-weight="normal" stroke="#333" stroke-width="0.25">50</text>
<line x1="412.95" y1="663.50" x2="412.95" y2="666.20" stroke="#444" stroke-width="1" stroke-linecap="butt"/>
<text x="412.95" y="678.80" font-size="9.6" text-anchor="middle" fill="#333" font-weight="normal" stroke="#333" stroke-width="0.25">100</text>
<line x1="464.27" y1="663.50" x2="464.27" y2="666.20" stroke="#444" stroke-width="1" stroke-linecap="butt"/>
<text x="464.27" y="678.80" font-size="9.6" text-anchor="middle" fill="#333" font-weight="normal" stroke="#333" stroke-width="0.25">150</text>
<line x1="515.60" y1="663.50" x2="515.60" y2="666.20" stroke="#444" stroke-width="1" stroke-linecap="butt"/>
<text x="515.60" y="678.80" font-size="9.6" text-anchor="middle" fill="#333" font-weight="normal" stroke="#333" stroke-width="0.25">200</text>
<text x="408.10" y="691.70" font-size="9.7" text-anchor="middle" fill="#333" font-weight="normal" stroke="#333" stroke-width="0.25">Time (months)</text>
<text x="288.10" y="581.00" font-size="11.1" text-anchor="middle" fill="#333" font-weight="normal" stroke="#333" stroke-width="0.25" transform="rotate(-90 288.10 581.00)">Probability</text>
<text x="507.20" y="505.60" font-size="6.0" text-anchor="end" fill="#222" font-weight="normal">HR, 0.55 (0.36–0.84)</text>
<text x="507.20" y="512.40" font-size="6.0" text-anchor="end" fill="#222" font-weight="normal">log-rank <tspan font-style="italic">P</tspan> = 0.0055</text>
<text x="313.20" y="641.50" font-size="5.9" text-anchor="start" fill="#333" font-weight="normal">Expression</text>
<line x1="315.60" y1="649.00" x2="326.60" y2="649.00" stroke="#333" stroke-width="1.0" stroke-linecap="butt"/>
<line x1="315.60" y1="655.80" x2="326.60" y2="655.80" stroke="#e7a3b3" stroke-width="1.1" stroke-linecap="butt"/>
<text x="330.80" y="650.20" font-size="6.0" text-anchor="start" fill="#111" font-weight="normal">Low</text>
<text x="330.80" y="656.90" font-size="6.0" text-anchor="start" fill="#111" font-weight="normal">High</text>
<path d="M307.30 502.30 H311.60 V503.34 H315.90 V504.38 H320.20 V505.42 H324.50 V506.46 H328.80 V507.50 H334.60 V509.20 H336.15 V510.15 H337.70 V511.10 H339.25 V512.05 H340.80 V513.00 H343.10 V514.20 H345.40 V515.40 H351.50 V517.00 H353.05 V518.10 H354.60 V519.20 H355.38 V520.15 H356.15 V521.10 H356.93 V522.05 H357.70 V523.00 H360.75 V524.20 H363.80 V525.40 H366.90 V526.55 H370.00 V527.70 H373.10 V528.85 H376.20 V530.00 H379.25 V531.15 H382.30 V532.30 H388.50 H394.60 V533.00 H396.15 V534.20 H397.70 V535.40 H399.23 V536.47 H400.77 V537.53 H402.30 V538.60 H403.56 V539.52 H404.82 V540.44 H406.08 V541.36 H407.34 V542.28 H408.60 V543.20 H410.40 V544.23 H412.20 V545.25 H414.00 V546.27 H415.80 V547.30 H418.87 V548.23 H421.93 V549.17 H425.00 V550.10 H441.20 V551.50 H442.80 V568.10 H496.50" fill="none" stroke="#1a1a1a" stroke-width="1.2"/>
<path d="M307.30 502.30 H313.25 V503.45 H319.20 V504.60 H324.60 V505.60 H330.00 V506.60 H336.20 V507.20 H337.20 V508.27 H338.20 V509.33 H339.20 V510.40 H341.27 V511.47 H343.33 V512.53 H345.40 V513.60 H353.00 V515.40 H356.90 V516.55 H360.80 V517.70 H364.65 V518.85 H368.50 V520.00 H376.20 V521.50 H383.80 V522.80 H391.50 V523.50 H399.20 V524.30 H404.00 V525.20 H408.80 V526.10 H416.90 V527.45 H425.00 V528.80 H427.30 V531.60 H452.70 V536.50 H477.60 V545.00 H486.90 V556.10 H508.50" fill="none" stroke="#e8232f" stroke-width="1.2"/>
<line x1="441.50" y1="557.70" x2="444.10" y2="557.70" stroke="#1a1a1a" stroke-width="0.9" stroke-linecap="butt"/>
<line x1="318.00" y1="502.67" x2="318.00" y2="506.07" stroke="#e8232f" stroke-width="0.9" stroke-linecap="butt"/>
<line x1="316.70" y1="504.37" x2="319.30" y2="504.37" stroke="#e8232f" stroke-width="0.9" stroke-linecap="butt"/>
<line x1="324.00" y1="503.79" x2="324.00" y2="507.19" stroke="#e8232f" stroke-width="0.9" stroke-linecap="butt"/>
<line x1="322.70" y1="505.49" x2="325.30" y2="505.49" stroke="#e8232f" stroke-width="0.9" stroke-linecap="butt"/>
<line x1="331.00" y1="505.00" x2="331.00" y2="508.40" stroke="#e8232f" stroke-width="0.9" stroke-linecap="butt"/>
<line x1="329.70" y1="506.70" x2="332.30" y2="506.70" stroke="#e8232f" stroke-width="0.9" stroke-linecap="butt"/>
<line x1="337.00" y1="506.35" x2="337.00" y2="509.75" stroke="#e8232f" stroke-width="0.9" stroke-linecap="butt"/>
<line x1="335.70" y1="508.05" x2="338.30" y2="508.05" stroke="#e8232f" stroke-width="0.9" stroke-linecap="butt"/>
<line x1="343.00" y1="510.66" x2="343.00" y2="514.06" stroke="#e8232f" stroke-width="0.9" stroke-linecap="butt"/>
<line x1="341.70" y1="512.36" x2="344.30" y2="512.36" stroke="#e8232f" stroke-width="0.9" stroke-linecap="butt"/>
<line x1="346.00" y1="512.04" x2="346.00" y2="515.44" stroke="#e8232f" stroke-width="0.9" stroke-linecap="butt"/>
<line x1="344.70" y1="513.74" x2="347.30" y2="513.74" stroke="#e8232f" stroke-width="0.9" stroke-linecap="butt"/>
<line x1="350.00" y1="512.99" x2="350.00" y2="516.39" stroke="#e8232f" stroke-width="0.9" stroke-linecap="butt"/>
<line x1="348.70" y1="514.69" x2="351.30" y2="514.69" stroke="#e8232f" stroke-width="0.9" stroke-linecap="butt"/>
<line x1="354.00" y1="513.99" x2="354.00" y2="517.39" stroke="#e8232f" stroke-width="0.9" stroke-linecap="butt"/>
<line x1="352.70" y1="515.69" x2="355.30" y2="515.69" stroke="#e8232f" stroke-width="0.9" stroke-linecap="butt"/>
<line x1="358.00" y1="515.17" x2="358.00" y2="518.57" stroke="#e8232f" stroke-width="0.9" stroke-linecap="butt"/>
<line x1="356.70" y1="516.87" x2="359.30" y2="516.87" stroke="#e8232f" stroke-width="0.9" stroke-linecap="butt"/>
<line x1="361.00" y1="516.06" x2="361.00" y2="519.46" stroke="#e8232f" stroke-width="0.9" stroke-linecap="butt"/>
<line x1="359.70" y1="517.76" x2="362.30" y2="517.76" stroke="#e8232f" stroke-width="0.9" stroke-linecap="butt"/>
<line x1="364.00" y1="516.96" x2="364.00" y2="520.36" stroke="#e8232f" stroke-width="0.9" stroke-linecap="butt"/>
<line x1="362.70" y1="518.66" x2="365.30" y2="518.66" stroke="#e8232f" stroke-width="0.9" stroke-linecap="butt"/>
<line x1="367.00" y1="517.85" x2="367.00" y2="521.25" stroke="#e8232f" stroke-width="0.9" stroke-linecap="butt"/>
<line x1="365.70" y1="519.55" x2="368.30" y2="519.55" stroke="#e8232f" stroke-width="0.9" stroke-linecap="butt"/>
<line x1="370.00" y1="518.59" x2="370.00" y2="521.99" stroke="#e8232f" stroke-width="0.9" stroke-linecap="butt"/>
<line x1="368.70" y1="520.29" x2="371.30" y2="520.29" stroke="#e8232f" stroke-width="0.9" stroke-linecap="butt"/>
<line x1="373.00" y1="519.18" x2="373.00" y2="522.58" stroke="#e8232f" stroke-width="0.9" stroke-linecap="butt"/>
<line x1="371.70" y1="520.88" x2="374.30" y2="520.88" stroke="#e8232f" stroke-width="0.9" stroke-linecap="butt"/>
<line x1="376.00" y1="519.76" x2="376.00" y2="523.16" stroke="#e8232f" stroke-width="0.9" stroke-linecap="butt"/>
<line x1="374.70" y1="521.46" x2="377.30" y2="521.46" stroke="#e8232f" stroke-width="0.9" stroke-linecap="butt"/>
<line x1="379.00" y1="520.28" x2="379.00" y2="523.68" stroke="#e8232f" stroke-width="0.9" stroke-linecap="butt"/>
<line x1="377.70" y1="521.98" x2="380.30" y2="521.98" stroke="#e8232f" stroke-width="0.9" stroke-linecap="butt"/>
<line x1="382.00" y1="520.79" x2="382.00" y2="524.19" stroke="#e8232f" stroke-width="0.9" stroke-linecap="butt"/>
<line x1="380.70" y1="522.49" x2="383.30" y2="522.49" stroke="#e8232f" stroke-width="0.9" stroke-linecap="butt"/>
<line x1="385.00" y1="521.21" x2="385.00" y2="524.61" stroke="#e8232f" stroke-width="0.9" stroke-linecap="butt"/>
<line x1="383.70" y1="522.91" x2="386.30" y2="522.91" stroke="#e8232f" stroke-width="0.9" stroke-linecap="butt"/>
<line x1="388.00" y1="521.48" x2="388.00" y2="524.88" stroke="#e8232f" stroke-width="0.9" stroke-linecap="butt"/>
<line x1="386.70" y1="523.18" x2="389.30" y2="523.18" stroke="#e8232f" stroke-width="0.9" stroke-linecap="butt"/>
<line x1="391.00" y1="521.75" x2="391.00" y2="525.15" stroke="#e8232f" stroke-width="0.9" stroke-linecap="butt"/>
<line x1="389.70" y1="523.45" x2="392.30" y2="523.45" stroke="#e8232f" stroke-width="0.9" stroke-linecap="butt"/>
<line x1="394.00" y1="522.06" x2="394.00" y2="525.46" stroke="#e8232f" stroke-width="0.9" stroke-linecap="butt"/>
<line x1="392.70" y1="523.76" x2="395.30" y2="523.76" stroke="#e8232f" stroke-width="0.9" stroke-linecap="butt"/>
<line x1="397.00" y1="522.37" x2="397.00" y2="525.77" stroke="#e8232f" stroke-width="0.9" stroke-linecap="butt"/>
<line x1="395.70" y1="524.07" x2="398.30" y2="524.07" stroke="#e8232f" stroke-width="0.9" stroke-linecap="butt"/>
<line x1="400.00" y1="522.75" x2="400.00" y2="526.15" stroke="#e8232f" stroke-width="0.9" stroke-linecap="butt"/>
<line x1="398.70" y1="524.45" x2="401.30" y2="524.45" stroke="#e8232f" stroke-width="0.9" stroke-linecap="butt"/>
<line x1="403.00" y1="523.31" x2="403.00" y2="526.71" stroke="#e8232f" stroke-width="0.9" stroke-linecap="butt"/>
<line x1="401.70" y1="525.01" x2="404.30" y2="525.01" stroke="#e8232f" stroke-width="0.9" stroke-linecap="butt"/>
<line x1="406.00" y1="523.88" x2="406.00" y2="527.28" stroke="#e8232f" stroke-width="0.9" stroke-linecap="butt"/>
<line x1="404.70" y1="525.58" x2="407.30" y2="525.58" stroke="#e8232f" stroke-width="0.9" stroke-linecap="butt"/>
<line x1="409.00" y1="524.43" x2="409.00" y2="527.83" stroke="#e8232f" stroke-width="0.9" stroke-linecap="butt"/>
<line x1="407.70" y1="526.13" x2="410.30" y2="526.13" stroke="#e8232f" stroke-width="0.9" stroke-linecap="butt"/>
<line x1="412.00" y1="524.93" x2="412.00" y2="528.33" stroke="#e8232f" stroke-width="0.9" stroke-linecap="butt"/>
<line x1="410.70" y1="526.63" x2="413.30" y2="526.63" stroke="#e8232f" stroke-width="0.9" stroke-linecap="butt"/>
<line x1="415.00" y1="525.43" x2="415.00" y2="528.83" stroke="#e8232f" stroke-width="0.9" stroke-linecap="butt"/>
<line x1="413.70" y1="527.13" x2="416.30" y2="527.13" stroke="#e8232f" stroke-width="0.9" stroke-linecap="butt"/>
<line x1="418.00" y1="525.93" x2="418.00" y2="529.33" stroke="#e8232f" stroke-width="0.9" stroke-linecap="butt"/>
<line x1="416.70" y1="527.63" x2="419.30" y2="527.63" stroke="#e8232f" stroke-width="0.9" stroke-linecap="butt"/>
<line x1="421.00" y1="526.43" x2="421.00" y2="529.83" stroke="#e8232f" stroke-width="0.9" stroke-linecap="butt"/>
<line x1="419.70" y1="528.13" x2="422.30" y2="528.13" stroke="#e8232f" stroke-width="0.9" stroke-linecap="butt"/>
<line x1="424.00" y1="526.93" x2="424.00" y2="530.33" stroke="#e8232f" stroke-width="0.9" stroke-linecap="butt"/>
<line x1="422.70" y1="528.63" x2="425.30" y2="528.63" stroke="#e8232f" stroke-width="0.9" stroke-linecap="butt"/>
<line x1="429.60" y1="529.90" x2="429.60" y2="533.30" stroke="#e8232f" stroke-width="0.9" stroke-linecap="butt"/>
<line x1="428.30" y1="531.60" x2="430.90" y2="531.60" stroke="#e8232f" stroke-width="0.9" stroke-linecap="butt"/>
<line x1="431.90" y1="529.90" x2="431.90" y2="533.30" stroke="#e8232f" stroke-width="0.9" stroke-linecap="butt"/>
<line x1="430.60" y1="531.60" x2="433.20" y2="531.60" stroke="#e8232f" stroke-width="0.9" stroke-linecap="butt"/>
<line x1="434.20" y1="529.90" x2="434.20" y2="533.30" stroke="#e8232f" stroke-width="0.9" stroke-linecap="butt"/>
<line x1="432.90" y1="531.60" x2="435.50" y2="531.60" stroke="#e8232f" stroke-width="0.9" stroke-linecap="butt"/>
<line x1="436.50" y1="529.90" x2="436.50" y2="533.30" stroke="#e8232f" stroke-width="0.9" stroke-linecap="butt"/>
<line x1="435.20" y1="531.60" x2="437.80" y2="531.60" stroke="#e8232f" stroke-width="0.9" stroke-linecap="butt"/>
<line x1="438.80" y1="529.90" x2="438.80" y2="533.30" stroke="#e8232f" stroke-width="0.9" stroke-linecap="butt"/>
<line x1="437.50" y1="531.60" x2="440.10" y2="531.60" stroke="#e8232f" stroke-width="0.9" stroke-linecap="butt"/>
<line x1="441.20" y1="529.90" x2="441.20" y2="533.30" stroke="#e8232f" stroke-width="0.9" stroke-linecap="butt"/>
<line x1="439.90" y1="531.60" x2="442.50" y2="531.60" stroke="#e8232f" stroke-width="0.9" stroke-linecap="butt"/>
<line x1="444.60" y1="529.90" x2="444.60" y2="533.30" stroke="#e8232f" stroke-width="0.9" stroke-linecap="butt"/>
<line x1="443.30" y1="531.60" x2="445.90" y2="531.60" stroke="#e8232f" stroke-width="0.9" stroke-linecap="butt"/>
<line x1="446.90" y1="529.90" x2="446.90" y2="533.30" stroke="#e8232f" stroke-width="0.9" stroke-linecap="butt"/>
<line x1="445.60" y1="531.60" x2="448.20" y2="531.60" stroke="#e8232f" stroke-width="0.9" stroke-linecap="butt"/>
<line x1="449.20" y1="529.90" x2="449.20" y2="533.30" stroke="#e8232f" stroke-width="0.9" stroke-linecap="butt"/>
<line x1="447.90" y1="531.60" x2="450.50" y2="531.60" stroke="#e8232f" stroke-width="0.9" stroke-linecap="butt"/>
<line x1="451.50" y1="529.90" x2="451.50" y2="533.30" stroke="#e8232f" stroke-width="0.9" stroke-linecap="butt"/>
<line x1="450.20" y1="531.60" x2="452.80" y2="531.60" stroke="#e8232f" stroke-width="0.9" stroke-linecap="butt"/>
<line x1="456.20" y1="534.80" x2="456.20" y2="538.20" stroke="#e8232f" stroke-width="0.9" stroke-linecap="butt"/>
<line x1="454.90" y1="536.50" x2="457.50" y2="536.50" stroke="#e8232f" stroke-width="0.9" stroke-linecap="butt"/>
<line x1="461.90" y1="534.80" x2="461.90" y2="538.20" stroke="#e8232f" stroke-width="0.9" stroke-linecap="butt"/>
<line x1="460.60" y1="536.50" x2="463.20" y2="536.50" stroke="#e8232f" stroke-width="0.9" stroke-linecap="butt"/>
<line x1="464.20" y1="534.80" x2="464.20" y2="538.20" stroke="#e8232f" stroke-width="0.9" stroke-linecap="butt"/>
<line x1="462.90" y1="536.50" x2="465.50" y2="536.50" stroke="#e8232f" stroke-width="0.9" stroke-linecap="butt"/>
<line x1="466.50" y1="534.80" x2="466.50" y2="538.20" stroke="#e8232f" stroke-width="0.9" stroke-linecap="butt"/>
<line x1="465.20" y1="536.50" x2="467.80" y2="536.50" stroke="#e8232f" stroke-width="0.9" stroke-linecap="butt"/>
<line x1="470.00" y1="534.80" x2="470.00" y2="538.20" stroke="#e8232f" stroke-width="0.9" stroke-linecap="butt"/>
<line x1="468.70" y1="536.50" x2="471.30" y2="536.50" stroke="#e8232f" stroke-width="0.9" stroke-linecap="butt"/>
<line x1="476.20" y1="534.80" x2="476.20" y2="538.20" stroke="#e8232f" stroke-width="0.9" stroke-linecap="butt"/>
<line x1="474.90" y1="536.50" x2="477.50" y2="536.50" stroke="#e8232f" stroke-width="0.9" stroke-linecap="butt"/>
<line x1="486.20" y1="543.30" x2="486.20" y2="546.70" stroke="#e8232f" stroke-width="0.9" stroke-linecap="butt"/>
<line x1="484.90" y1="545.00" x2="487.50" y2="545.00" stroke="#e8232f" stroke-width="0.9" stroke-linecap="butt"/>
<line x1="489.60" y1="554.40" x2="489.60" y2="557.80" stroke="#e8232f" stroke-width="0.9" stroke-linecap="butt"/>
<line x1="488.30" y1="556.10" x2="490.90" y2="556.10" stroke="#e8232f" stroke-width="0.9" stroke-linecap="butt"/>
<line x1="491.90" y1="554.40" x2="491.90" y2="557.80" stroke="#e8232f" stroke-width="0.9" stroke-linecap="butt"/>
<line x1="490.60" y1="556.10" x2="493.20" y2="556.10" stroke="#e8232f" stroke-width="0.9" stroke-linecap="butt"/>
<line x1="494.20" y1="554.40" x2="494.20" y2="557.80" stroke="#e8232f" stroke-width="0.9" stroke-linecap="butt"/>
<line x1="492.90" y1="556.10" x2="495.50" y2="556.10" stroke="#e8232f" stroke-width="0.9" stroke-linecap="butt"/>
<line x1="497.70" y1="554.40" x2="497.70" y2="557.80" stroke="#e8232f" stroke-width="0.9" stroke-linecap="butt"/>
<line x1="496.40" y1="556.10" x2="499.00" y2="556.10" stroke="#e8232f" stroke-width="0.9" stroke-linecap="butt"/>
<line x1="503.50" y1="554.40" x2="503.50" y2="557.80" stroke="#e8232f" stroke-width="0.9" stroke-linecap="butt"/>
<line x1="502.20" y1="556.10" x2="504.80" y2="556.10" stroke="#e8232f" stroke-width="0.9" stroke-linecap="butt"/>
<line x1="508.10" y1="554.40" x2="508.10" y2="557.80" stroke="#e8232f" stroke-width="0.9" stroke-linecap="butt"/>
<line x1="506.80" y1="556.10" x2="509.40" y2="556.10" stroke="#e8232f" stroke-width="0.9" stroke-linecap="butt"/>
<line x1="316.00" y1="502.70" x2="316.00" y2="506.10" stroke="#1a1a1a" stroke-width="0.9" stroke-linecap="butt"/>
<line x1="314.70" y1="504.40" x2="317.30" y2="504.40" stroke="#1a1a1a" stroke-width="0.9" stroke-linecap="butt"/>
<line x1="322.00" y1="504.16" x2="322.00" y2="507.56" stroke="#1a1a1a" stroke-width="0.9" stroke-linecap="butt"/>
<line x1="320.70" y1="505.86" x2="323.30" y2="505.86" stroke="#1a1a1a" stroke-width="0.9" stroke-linecap="butt"/>
<line x1="330.00" y1="506.15" x2="330.00" y2="509.55" stroke="#1a1a1a" stroke-width="0.9" stroke-linecap="butt"/>
<line x1="328.70" y1="507.85" x2="331.30" y2="507.85" stroke="#1a1a1a" stroke-width="0.9" stroke-linecap="butt"/>
<line x1="336.00" y1="508.36" x2="336.00" y2="511.76" stroke="#1a1a1a" stroke-width="0.9" stroke-linecap="butt"/>
<line x1="334.70" y1="510.06" x2="337.30" y2="510.06" stroke="#1a1a1a" stroke-width="0.9" stroke-linecap="butt"/>
<line x1="341.00" y1="511.40" x2="341.00" y2="514.80" stroke="#1a1a1a" stroke-width="0.9" stroke-linecap="butt"/>
<line x1="339.70" y1="513.10" x2="342.30" y2="513.10" stroke="#1a1a1a" stroke-width="0.9" stroke-linecap="butt"/>
<line x1="345.00" y1="513.49" x2="345.00" y2="516.89" stroke="#1a1a1a" stroke-width="0.9" stroke-linecap="butt"/>
<line x1="343.70" y1="515.19" x2="346.30" y2="515.19" stroke="#1a1a1a" stroke-width="0.9" stroke-linecap="butt"/>
<line x1="348.00" y1="514.38" x2="348.00" y2="517.78" stroke="#1a1a1a" stroke-width="0.9" stroke-linecap="butt"/>
<line x1="346.70" y1="516.08" x2="349.30" y2="516.08" stroke="#1a1a1a" stroke-width="0.9" stroke-linecap="butt"/>
<line x1="353.00" y1="516.36" x2="353.00" y2="519.76" stroke="#1a1a1a" stroke-width="0.9" stroke-linecap="butt"/>
<line x1="351.70" y1="518.06" x2="354.30" y2="518.06" stroke="#1a1a1a" stroke-width="0.9" stroke-linecap="butt"/>
<line x1="356.00" y1="519.22" x2="356.00" y2="522.62" stroke="#1a1a1a" stroke-width="0.9" stroke-linecap="butt"/>
<line x1="354.70" y1="520.92" x2="357.30" y2="520.92" stroke="#1a1a1a" stroke-width="0.9" stroke-linecap="butt"/>
<line x1="361.00" y1="522.60" x2="361.00" y2="526.00" stroke="#1a1a1a" stroke-width="0.9" stroke-linecap="butt"/>
<line x1="359.70" y1="524.30" x2="362.30" y2="524.30" stroke="#1a1a1a" stroke-width="0.9" stroke-linecap="butt"/>
<line x1="364.00" y1="523.77" x2="364.00" y2="527.17" stroke="#1a1a1a" stroke-width="0.9" stroke-linecap="butt"/>
<line x1="362.70" y1="525.47" x2="365.30" y2="525.47" stroke="#1a1a1a" stroke-width="0.9" stroke-linecap="butt"/>
<line x1="367.00" y1="524.89" x2="367.00" y2="528.29" stroke="#1a1a1a" stroke-width="0.9" stroke-linecap="butt"/>
<line x1="365.70" y1="526.59" x2="368.30" y2="526.59" stroke="#1a1a1a" stroke-width="0.9" stroke-linecap="butt"/>
<line x1="370.00" y1="526.00" x2="370.00" y2="529.40" stroke="#1a1a1a" stroke-width="0.9" stroke-linecap="butt"/>
<line x1="368.70" y1="527.70" x2="371.30" y2="527.70" stroke="#1a1a1a" stroke-width="0.9" stroke-linecap="butt"/>
<line x1="373.00" y1="527.11" x2="373.00" y2="530.51" stroke="#1a1a1a" stroke-width="0.9" stroke-linecap="butt"/>
<line x1="371.70" y1="528.81" x2="374.30" y2="528.81" stroke="#1a1a1a" stroke-width="0.9" stroke-linecap="butt"/>
<line x1="376.00" y1="528.23" x2="376.00" y2="531.63" stroke="#1a1a1a" stroke-width="0.9" stroke-linecap="butt"/>
<line x1="374.70" y1="529.93" x2="377.30" y2="529.93" stroke="#1a1a1a" stroke-width="0.9" stroke-linecap="butt"/>
<line x1="380.00" y1="529.73" x2="380.00" y2="533.13" stroke="#1a1a1a" stroke-width="0.9" stroke-linecap="butt"/>
<line x1="378.70" y1="531.43" x2="381.30" y2="531.43" stroke="#1a1a1a" stroke-width="0.9" stroke-linecap="butt"/>
<line x1="383.00" y1="530.60" x2="383.00" y2="534.00" stroke="#1a1a1a" stroke-width="0.9" stroke-linecap="butt"/>
<line x1="381.70" y1="532.30" x2="384.30" y2="532.30" stroke="#1a1a1a" stroke-width="0.9" stroke-linecap="butt"/>
<line x1="386.00" y1="530.60" x2="386.00" y2="534.00" stroke="#1a1a1a" stroke-width="0.9" stroke-linecap="butt"/>
<line x1="384.70" y1="532.30" x2="387.30" y2="532.30" stroke="#1a1a1a" stroke-width="0.9" stroke-linecap="butt"/>
<line x1="389.00" y1="530.66" x2="389.00" y2="534.06" stroke="#1a1a1a" stroke-width="0.9" stroke-linecap="butt"/>
<line x1="387.70" y1="532.36" x2="390.30" y2="532.36" stroke="#1a1a1a" stroke-width="0.9" stroke-linecap="butt"/>
<line x1="392.00" y1="531.00" x2="392.00" y2="534.40" stroke="#1a1a1a" stroke-width="0.9" stroke-linecap="butt"/>
<line x1="390.70" y1="532.70" x2="393.30" y2="532.70" stroke="#1a1a1a" stroke-width="0.9" stroke-linecap="butt"/>
<line x1="395.00" y1="531.61" x2="395.00" y2="535.01" stroke="#1a1a1a" stroke-width="0.9" stroke-linecap="butt"/>
<line x1="393.70" y1="533.31" x2="396.30" y2="533.31" stroke="#1a1a1a" stroke-width="0.9" stroke-linecap="butt"/>
<line x1="398.00" y1="533.91" x2="398.00" y2="537.31" stroke="#1a1a1a" stroke-width="0.9" stroke-linecap="butt"/>
<line x1="396.70" y1="535.61" x2="399.30" y2="535.61" stroke="#1a1a1a" stroke-width="0.9" stroke-linecap="butt"/>
<line x1="401.00" y1="536.00" x2="401.00" y2="539.40" stroke="#1a1a1a" stroke-width="0.9" stroke-linecap="butt"/>
<line x1="399.70" y1="537.70" x2="402.30" y2="537.70" stroke="#1a1a1a" stroke-width="0.9" stroke-linecap="butt"/>
<line x1="404.00" y1="538.14" x2="404.00" y2="541.54" stroke="#1a1a1a" stroke-width="0.9" stroke-linecap="butt"/>
<line x1="402.70" y1="539.84" x2="405.30" y2="539.84" stroke="#1a1a1a" stroke-width="0.9" stroke-linecap="butt"/>
<line x1="407.00" y1="540.33" x2="407.00" y2="543.73" stroke="#1a1a1a" stroke-width="0.9" stroke-linecap="butt"/>
<line x1="405.70" y1="542.03" x2="408.30" y2="542.03" stroke="#1a1a1a" stroke-width="0.9" stroke-linecap="butt"/>
<line x1="409.00" y1="541.73" x2="409.00" y2="545.13" stroke="#1a1a1a" stroke-width="0.9" stroke-linecap="butt"/>
<line x1="407.70" y1="543.43" x2="410.30" y2="543.43" stroke="#1a1a1a" stroke-width="0.9" stroke-linecap="butt"/>
<line x1="412.00" y1="543.44" x2="412.00" y2="546.84" stroke="#1a1a1a" stroke-width="0.9" stroke-linecap="butt"/>
<line x1="410.70" y1="545.14" x2="413.30" y2="545.14" stroke="#1a1a1a" stroke-width="0.9" stroke-linecap="butt"/>
<line x1="415.00" y1="545.14" x2="415.00" y2="548.54" stroke="#1a1a1a" stroke-width="0.9" stroke-linecap="butt"/>
<line x1="413.70" y1="546.84" x2="416.30" y2="546.84" stroke="#1a1a1a" stroke-width="0.9" stroke-linecap="butt"/>
<line x1="418.00" y1="546.27" x2="418.00" y2="549.67" stroke="#1a1a1a" stroke-width="0.9" stroke-linecap="butt"/>
<line x1="416.70" y1="547.97" x2="419.30" y2="547.97" stroke="#1a1a1a" stroke-width="0.9" stroke-linecap="butt"/>
<line x1="421.00" y1="547.18" x2="421.00" y2="550.58" stroke="#1a1a1a" stroke-width="0.9" stroke-linecap="butt"/>
<line x1="419.70" y1="548.88" x2="422.30" y2="548.88" stroke="#1a1a1a" stroke-width="0.9" stroke-linecap="butt"/>
<line x1="424.00" y1="548.10" x2="424.00" y2="551.50" stroke="#1a1a1a" stroke-width="0.9" stroke-linecap="butt"/>
<line x1="422.70" y1="549.80" x2="425.30" y2="549.80" stroke="#1a1a1a" stroke-width="0.9" stroke-linecap="butt"/>
<line x1="426.00" y1="548.49" x2="426.00" y2="551.89" stroke="#1a1a1a" stroke-width="0.9" stroke-linecap="butt"/>
<line x1="424.70" y1="550.19" x2="427.30" y2="550.19" stroke="#1a1a1a" stroke-width="0.9" stroke-linecap="butt"/>
<line x1="428.00" y1="548.66" x2="428.00" y2="552.06" stroke="#1a1a1a" stroke-width="0.9" stroke-linecap="butt"/>
<line x1="426.70" y1="550.36" x2="429.30" y2="550.36" stroke="#1a1a1a" stroke-width="0.9" stroke-linecap="butt"/>
<line x1="430.00" y1="548.83" x2="430.00" y2="552.23" stroke="#1a1a1a" stroke-width="0.9" stroke-linecap="butt"/>
<line x1="428.70" y1="550.53" x2="431.30" y2="550.53" stroke="#1a1a1a" stroke-width="0.9" stroke-linecap="butt"/>
<line x1="432.00" y1="549.00" x2="432.00" y2="552.40" stroke="#1a1a1a" stroke-width="0.9" stroke-linecap="butt"/>
<line x1="430.70" y1="550.70" x2="433.30" y2="550.70" stroke="#1a1a1a" stroke-width="0.9" stroke-linecap="butt"/>
<line x1="434.00" y1="549.18" x2="434.00" y2="552.58" stroke="#1a1a1a" stroke-width="0.9" stroke-linecap="butt"/>
<line x1="432.70" y1="550.88" x2="435.30" y2="550.88" stroke="#1a1a1a" stroke-width="0.9" stroke-linecap="butt"/>
<line x1="436.00" y1="549.35" x2="436.00" y2="552.75" stroke="#1a1a1a" stroke-width="0.9" stroke-linecap="butt"/>
<line x1="434.70" y1="551.05" x2="437.30" y2="551.05" stroke="#1a1a1a" stroke-width="0.9" stroke-linecap="butt"/>
<line x1="438.00" y1="549.52" x2="438.00" y2="552.92" stroke="#1a1a1a" stroke-width="0.9" stroke-linecap="butt"/>
<line x1="436.70" y1="551.22" x2="439.30" y2="551.22" stroke="#1a1a1a" stroke-width="0.9" stroke-linecap="butt"/>
<line x1="440.00" y1="549.70" x2="440.00" y2="553.10" stroke="#1a1a1a" stroke-width="0.9" stroke-linecap="butt"/>
<line x1="438.70" y1="551.40" x2="441.30" y2="551.40" stroke="#1a1a1a" stroke-width="0.9" stroke-linecap="butt"/>
<line x1="443.50" y1="566.40" x2="443.50" y2="569.80" stroke="#1a1a1a" stroke-width="0.9" stroke-linecap="butt"/>
<line x1="442.20" y1="568.10" x2="444.80" y2="568.10" stroke="#1a1a1a" stroke-width="0.9" stroke-linecap="butt"/>
<line x1="445.80" y1="566.40" x2="445.80" y2="569.80" stroke="#1a1a1a" stroke-width="0.9" stroke-linecap="butt"/>
<line x1="444.50" y1="568.10" x2="447.10" y2="568.10" stroke="#1a1a1a" stroke-width="0.9" stroke-linecap="butt"/>
<line x1="448.00" y1="566.40" x2="448.00" y2="569.80" stroke="#1a1a1a" stroke-width="0.9" stroke-linecap="butt"/>
<line x1="446.70" y1="568.10" x2="449.30" y2="568.10" stroke="#1a1a1a" stroke-width="0.9" stroke-linecap="butt"/>
<line x1="465.40" y1="566.40" x2="465.40" y2="569.80" stroke="#1a1a1a" stroke-width="0.9" stroke-linecap="butt"/>
<line x1="464.10" y1="568.10" x2="466.70" y2="568.10" stroke="#1a1a1a" stroke-width="0.9" stroke-linecap="butt"/>
<line x1="480.40" y1="566.40" x2="480.40" y2="569.80" stroke="#1a1a1a" stroke-width="0.9" stroke-linecap="butt"/>
<line x1="479.10" y1="568.10" x2="481.70" y2="568.10" stroke="#1a1a1a" stroke-width="0.9" stroke-linecap="butt"/>
<line x1="496.50" y1="566.40" x2="496.50" y2="569.80" stroke="#1a1a1a" stroke-width="0.9" stroke-linecap="butt"/>
<line x1="495.20" y1="568.10" x2="497.80" y2="568.10" stroke="#1a1a1a" stroke-width="0.9" stroke-linecap="butt"/>
</svg>
</body></html>
